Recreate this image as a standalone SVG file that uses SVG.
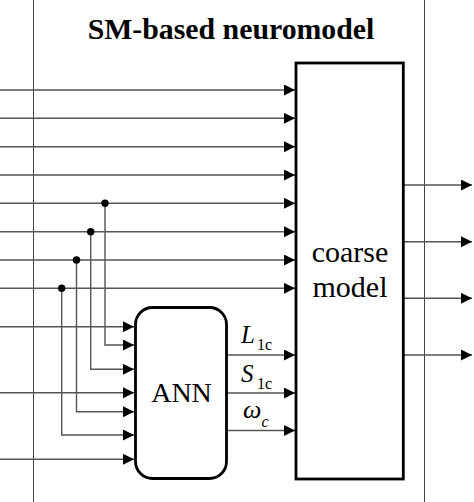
<svg xmlns="http://www.w3.org/2000/svg" width="474" height="502" viewBox="0 0 474 502">
<style>
.bnd{stroke:#444;stroke-width:1;fill:none}
.w{stroke:#555;stroke-width:1.4;fill:none}
.box{stroke:#000;stroke-width:2.8;fill:#fff}
.t{font-family:"Liberation Serif","Times New Roman",serif;fill:#000}
.dot{fill:#000}
</style>
<defs>
<marker id="ah" markerUnits="userSpaceOnUse" markerWidth="12" markerHeight="12" refX="11" refY="5.5" orient="auto" viewBox="0 0 12 12">
<path d="M0,0 L11,5.5 L0,11 z" fill="#000"/>
</marker>
</defs>
<g id="frame">
<line class="bnd" x1="33.5" y1="0" x2="33.5" y2="502"/>
<line class="bnd" x1="424.5" y1="0" x2="424.5" y2="502"/>
<text class="t" x="231" y="39" font-size="29.8" font-weight="bold" text-anchor="middle">SM-based neuromodel</text>
</g>
<g id="connectors">
<line class="w" x1="0" y1="90" x2="295" y2="90" marker-end="url(#ah)"/>
<line class="w" x1="0" y1="118.3" x2="295" y2="118.3" marker-end="url(#ah)"/>
<line class="w" x1="0" y1="146.7" x2="295" y2="146.7" marker-end="url(#ah)"/>
<line class="w" x1="0" y1="175" x2="295" y2="175" marker-end="url(#ah)"/>
<line class="w" x1="0" y1="203.3" x2="295" y2="203.3" marker-end="url(#ah)"/>
<line class="w" x1="0" y1="231.7" x2="295" y2="231.7" marker-end="url(#ah)"/>
<line class="w" x1="0" y1="260" x2="295" y2="260" marker-end="url(#ah)"/>
<line class="w" x1="0" y1="288.3" x2="295" y2="288.3" marker-end="url(#ah)"/>
<line class="w" x1="0" y1="326.7" x2="134" y2="326.7" marker-end="url(#ah)"/>
<line class="w" x1="0" y1="392.7" x2="134" y2="392.7" marker-end="url(#ah)"/>
<line class="w" x1="0" y1="459.3" x2="134" y2="459.3" marker-end="url(#ah)"/>
<polyline class="w" points="105,203.3 105,345 134,345" marker-end="url(#ah)"/>
<polyline class="w" points="90.7,231.7 90.7,369.3 134,369.3" marker-end="url(#ah)"/>
<polyline class="w" points="76.5,260 76.5,411.7 134,411.7" marker-end="url(#ah)"/>
<polyline class="w" points="61.7,288.3 61.7,435 134,435" marker-end="url(#ah)"/>
<circle class="dot" cx="105" cy="203.3" r="3.7"/>
<circle class="dot" cx="90.7" cy="231.7" r="3.7"/>
<circle class="dot" cx="76.5" cy="260" r="3.7"/>
<circle class="dot" cx="61.7" cy="288.3" r="3.7"/>
<line class="w" x1="227" y1="355" x2="295" y2="355" marker-end="url(#ah)"/>
<line class="w" x1="227" y1="393" x2="295" y2="393" marker-end="url(#ah)"/>
<line class="w" x1="227" y1="430.5" x2="295" y2="430.5" marker-end="url(#ah)"/>
<line class="w" x1="403" y1="185" x2="472" y2="185" marker-end="url(#ah)"/>
<line class="w" x1="403" y1="241.7" x2="472" y2="241.7" marker-end="url(#ah)"/>
<line class="w" x1="403" y1="298.3" x2="472" y2="298.3" marker-end="url(#ah)"/>
<line class="w" x1="403" y1="355" x2="472" y2="355" marker-end="url(#ah)"/>
<text class="t" x="241" y="342.5" font-size="25" font-style="italic">L</text>
<text class="t" x="257" y="349.5" font-size="16">1c</text>
<text class="t" x="241" y="382" font-size="25" font-style="italic">S</text>
<text class="t" x="257" y="389" font-size="16">1c</text>
<text class="t" x="243" y="418" font-size="26" font-style="italic">ω</text>
<text class="t" x="261.5" y="427" font-size="16" font-style="italic">c</text>
</g>
<g id="coarse">
<rect class="box" x="296" y="63" width="107.3" height="416"/>
<text class="t" x="350" y="262" font-size="30" text-anchor="middle">coarse</text>
<text class="t" x="350" y="296.5" font-size="30" text-anchor="middle">model</text>
</g>
<g id="ann">
<rect class="box" x="135.5" y="307.5" width="91" height="171" rx="17" ry="17"/>
<text class="t" x="181.5" y="401.5" font-size="28" text-anchor="middle">ANN</text>
</g>
</svg>
